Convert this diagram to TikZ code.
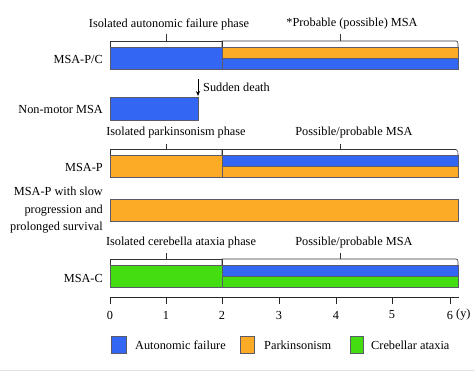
\documentclass[tikz,border=0pt]{standalone}
\usepackage{fontspec}
\usetikzlibrary{arrows.meta}
\setmainfont{Liberation Serif}
\definecolor{afblue}{HTML}{3366F2}
\definecolor{pkorange}{HTML}{FBAB25}
\definecolor{cagreen}{HTML}{44DD11}
\definecolor{edgegray}{HTML}{5A5A6A}
\begin{document}
\begin{tikzpicture}[x=1pt,y=-1pt,
  txt/.style={font=\fontsize{12.3}{14}\selectfont, inner sep=0pt},
  rowlabel/.style={txt, anchor=east},
  bar/.style={draw=edgegray, line width=0.6pt},
  brace/.style={draw=black!80, line width=0.6pt},
  axisline/.style={draw=black!85, line width=0.7pt},
  legbox/.style={draw=edgegray, line width=0.6pt}]
\useasboundingbox (0,0) rectangle (474,372);
\fill[white] (0,0) rectangle (474,372);

% ---------- Row 1: MSA-P/C ----------
\node[txt] (t1a) at (169,24) {Isolated autonomic failure phase};
\node[txt] (t1b) at (352,24) {*Probable (possible) MSA};
\draw[brace] (110,47) -- (110,41) -- (222,41) -- (222,47);
\draw[brace] (166,41) -- (166,34);
\draw[brace] (222,47) -- (222,41) -- (456,41) to[out=0,in=90] (458,47);
\draw[brace] (340,41) -- (340,34);
\draw[bar, fill=afblue] (110,47) rectangle (222,69);
\draw[bar, fill=pkorange] (222,47) rectangle (458,58);
\draw[bar, fill=afblue] (222,58) rectangle (458,69);
\node[rowlabel] (l1) at (103,59) {MSA-P/C};

% ---------- Row 2: Non-motor MSA ----------
\coordinate (sdtop) at (198,79);
\coordinate (sdbot) at (198,96);
\draw[-{Stealth[length=5pt,width=4pt]}, line width=0.8pt] (sdtop) -- (sdbot);
\node[txt, anchor=west] (sd) at (203,87) {Sudden death};
\draw[bar, fill=afblue] (110,97) rectangle (198,120);
\node[rowlabel] (l2) at (103,109) {Non-motor MSA};

% ---------- Row 3: MSA-P ----------
\node[txt] (t3a) at (176,133) {Isolated parkinsonism phase};
\node[txt] (t3b) at (354,133) {Possible/probable MSA};
\draw[brace] (110,155) -- (110,149.5) -- (222,149.5) -- (222,155);
\draw[brace] (166,149.5) -- (166,143.5);
\draw[brace] (222,155) -- (222,149.5) -- (456,149.5) to[out=0,in=90] (458,155);
\draw[brace] (340,149.5) -- (340,143.5);
\draw[bar, fill=pkorange] (110,155) rectangle (222,177);
\draw[bar, fill=afblue] (222,155) rectangle (458,166);
\draw[bar, fill=pkorange] (222,166) rectangle (458,177);
\node[rowlabel] (l3) at (103,167) {MSA-P};

% ---------- Row 4: MSA-P slow ----------
\draw[bar, fill=pkorange] (110,199) rectangle (458,221);
\node[rowlabel, align=right, font=\fontsize{12.3}{17.5}\selectfont] (l4) at (103,210.5) {MSA-P with slow\\progression and\\prolonged survival};

% ---------- Row 5: MSA-C ----------
\node[txt] (t5a) at (181,243) {Isolated cerebella ataxia phase};
\node[txt] (t5b) at (354,243) {Possible/probable MSA};
\draw[brace] (110,265) -- (110,259) -- (222,259) -- (222,265);
\draw[brace] (166,259) -- (166,253);
\draw[brace] (222,265) -- (222,259) -- (456,259) to[out=0,in=90] (458,265);
\draw[brace] (340,259) -- (340,253);
\draw[bar, fill=cagreen] (110,265) rectangle (222,287);
\draw[bar, fill=afblue] (222,265) rectangle (458,276);
\draw[bar, fill=cagreen] (222,276) rectangle (458,287);
\node[rowlabel] (l5) at (103,278) {MSA-C};

% ---------- Axis ----------
\draw[axisline] (110,297) -- (459,297);
\foreach \i/\xx in {0/110,1/166,2/222,3/279,4/336,5/392} {
  \draw[axisline] (\xx,297) -- (\xx,304);
  \node[txt] (tick\i) at (\xx,315) {\i};
}
\draw[axisline] (450,297) -- (450,304);
\node[txt] (tick6) at (450,315) {6};
\node[txt, anchor=west] (unit) at (456,315) {(y)};

% ---------- Legend ----------
\draw[legbox, fill=afblue] (111,336) rectangle (126,353);
\node[txt, anchor=west] (lg1) at (135,345) {Autonomic failure};
\draw[legbox, fill=pkorange] (240,336) rectangle (254,353);
\node[txt, anchor=west] (lg2) at (264,345) {Parkinsonism};
\draw[legbox, fill=cagreen] (350,336) rectangle (363,353);
\node[txt, anchor=west] (lg3) at (371,345) {Crebellar ataxia};

\draw[black!12, line width=1pt] (0,370) -- (474,370);
\end{tikzpicture}
\end{document}
